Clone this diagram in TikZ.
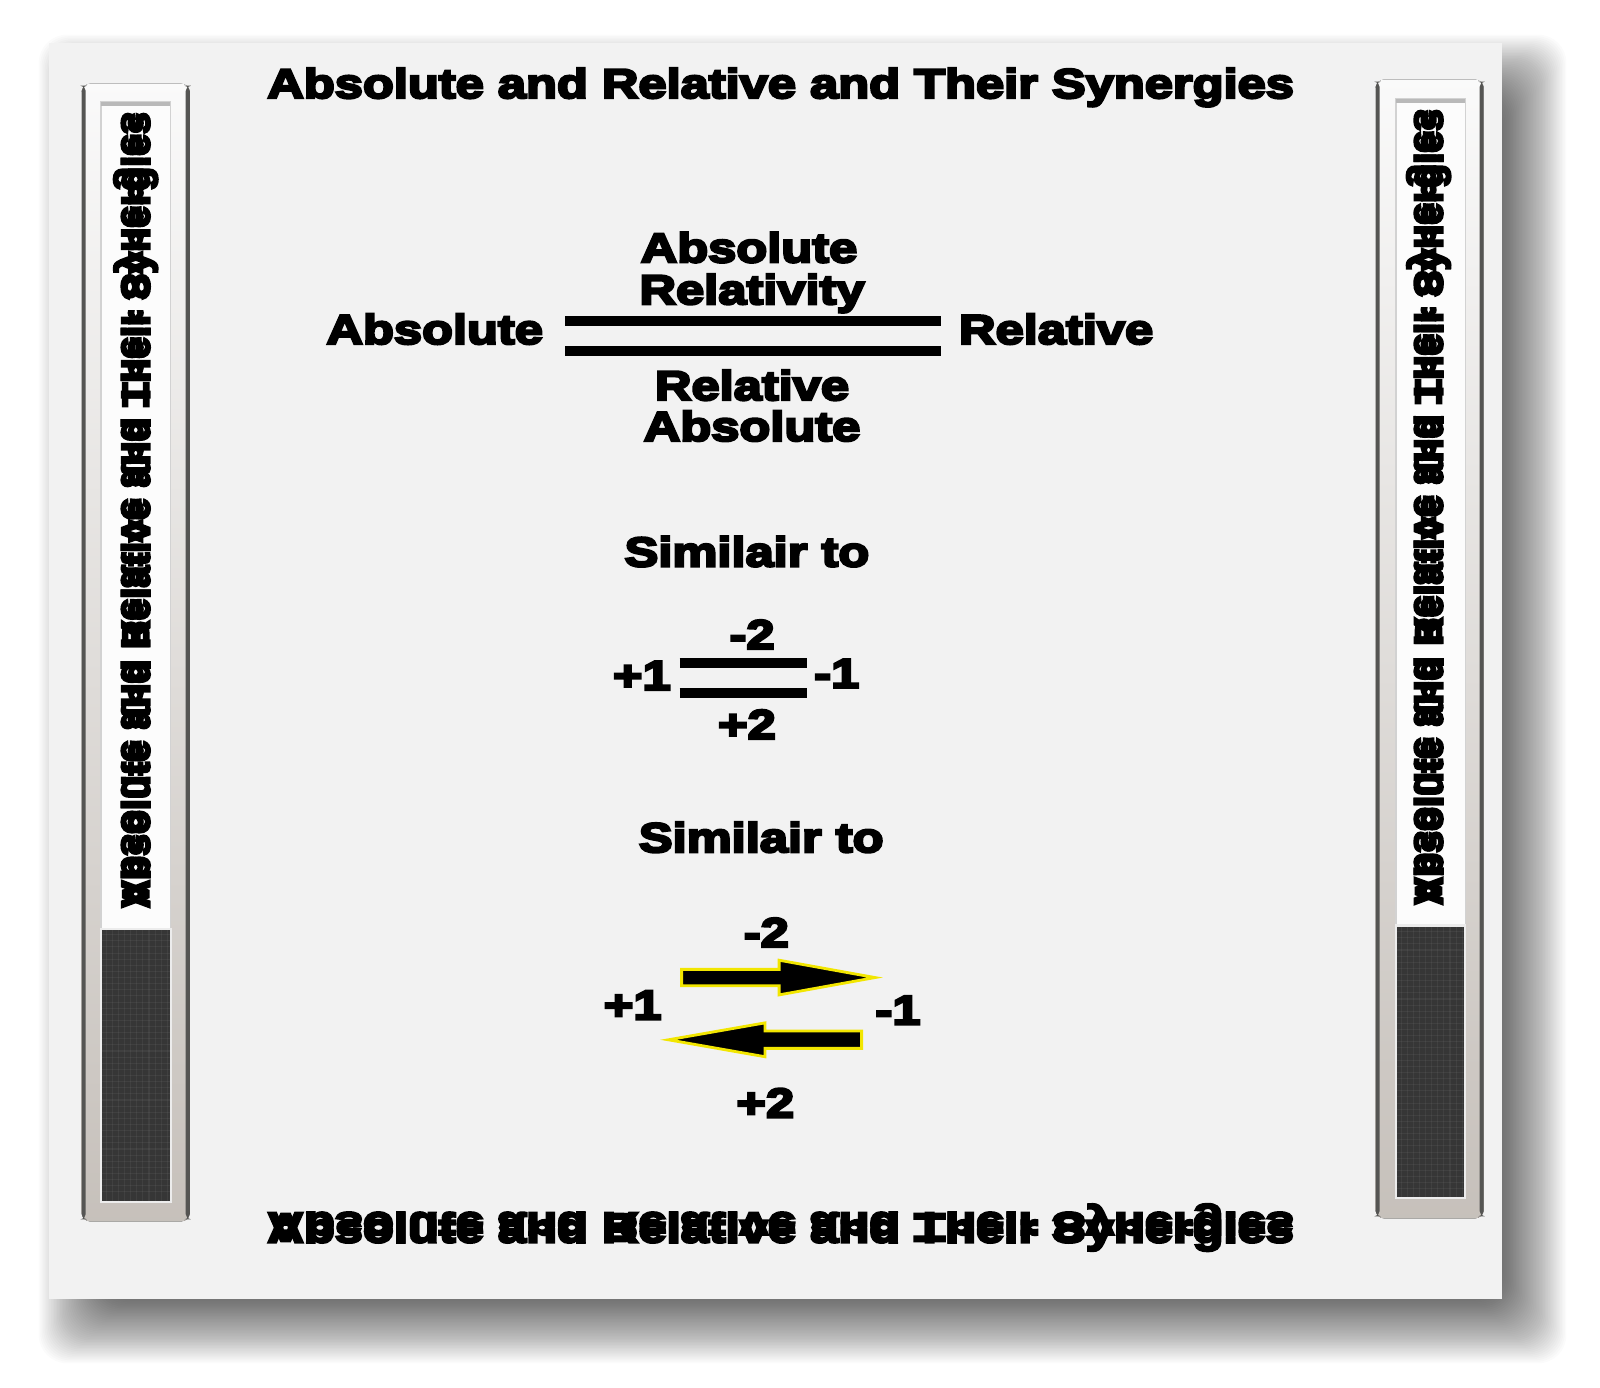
\documentclass[tikz,border=0pt]{standalone}
\usepackage{fontspec}
\newfontfamily\heavy[FakeStretch=1.225,FakeBold=6]{Liberation Sans Bold}
\newfontfamily\sideheavy[FakeStretch=1.02,FakeBold=6]{Liberation Sans Bold}
\definecolor{cardgray}{HTML}{F2F2F2}
\definecolor{edgegray}{HTML}{555553}
\definecolor{paneldark}{HTML}{363636}
\definecolor{arrowyel}{HTML}{F2E600}
\newcommand\mirtxt[6]{%
  \begin{scope}[shift={(#1,#2)},rotate=#3]
    \node[#4, transform shape] (#6a) at (0pt,-#5) {\mirrorcontent};
    \begin{scope}[yscale=-1]
      \node[#4, transform shape] (#6b) at (0pt,-#5) {\mirrorcontent};
    \end{scope}
  \end{scope}}
\newcommand\mirrorcontent{Absolute and Relative and Their Synergies}
\begin{document}
\begin{tikzpicture}[x=0.010204cm,y=-0.010204cm,
  lab/.style={font=\heavy\fontsize{11.76}{14}\selectfont, inner sep=0pt, anchor=base},
  sidelab/.style={font=\sideheavy\fontsize{10.95}{13}\selectfont, inner sep=0pt, anchor=base},
  barline/.style={line width=2.9pt, black},
  bigarrow/.style={fill=black, draw=arrowyel, line width=0.8pt, line join=miter},
  frame/.style={top color=white!96!gray, bottom color=white!85!brown!60!gray, rounded corners=2.5pt},
  strip/.style={fill=white!98!gray, draw=gray!35, line width=0.4pt},
  panel/.style={fill=paneldark, draw=white!85!gray, line width=0.6pt}]
\useasboundingbox (0,0) rectangle (1568,1359.3);
\fill[white] (0,0) rectangle (1568,1359.3);
% drop shadow of the card
\foreach \e in {0,1.5,...,66} {
  \fill[black, opacity=0.016, rounded corners=8pt] ({38+\e},{34+\e}) rectangle ({1535-\e},{1336-\e});
}
% card
\fill[cardgray] (48,42) rectangle (1472,1273);
% ---------- left side bar ----------
\fill[frame] (80,82) rectangle (186,1197);
\fill[edgegray, rounded corners=1.5pt] (80,84) rectangle (84,1195);
\fill[edgegray, rounded corners=1.5pt] (182,84) rectangle (186,1195);
\draw[strip] (99,100) rectangle (167,910);
\fill[gray!55] (99,100) rectangle (167,103.5);
\draw[panel] (99,910) rectangle (168,1178);
\foreach \yy in {916,922,...,1172} \draw[white, opacity=0.05, line width=0.3pt] (100,\yy) -- (167,\yy);
\foreach \xx in {104,110,...,164} \draw[white, opacity=0.05, line width=0.3pt] (\xx,911) -- (\xx,1177);
\mirtxt{133}{500}{90}{sidelab}{3.92pt}{lt}
% ---------- right side bar ----------
\fill[frame] (1348,78) rectangle (1454,1194);
\fill[edgegray, rounded corners=1.5pt] (1348,80) rectangle (1352,1192);
\fill[edgegray, rounded corners=1.5pt] (1450,80) rectangle (1454,1192);
\draw[strip] (1368,97) rectangle (1436,907);
\fill[gray!55] (1368,97) rectangle (1436,100.5);
\draw[panel] (1368,907) rectangle (1436,1174);
\foreach \yy in {913,919,...,1169} \draw[white, opacity=0.05, line width=0.3pt] (1369,\yy) -- (1435,\yy);
\foreach \xx in {1373,1379,...,1433} \draw[white, opacity=0.05, line width=0.3pt] (\xx,908) -- (\xx,1173);
\mirtxt{1400}{497}{90}{sidelab}{3.92pt}{rt}
% ---------- title and mirrored bottom line ----------
\node[lab] (title) at (765,96) {Absolute and Relative and Their Synergies};
\mirtxt{765}{1203}{0}{lab}{4.21pt}{bt}
% ---------- first relation ----------
\node[lab] (absrelA) at (734,257) {Absolute};
\node[lab] (absrelB) at (737,298) {Relativity};
\node[lab] (absL) at (426,337) {Absolute};
\node[lab] (relR) at (1035,337) {Relative};
\node[lab] (relabsA) at (737,392) {Relative};
\node[lab] (relabsB) at (737,432) {Absolute};
\coordinate (L1a) at (554,314.6); \coordinate (L1b) at (922,314.6);
\coordinate (L2a) at (554,343.8); \coordinate (L2b) at (922,343.8);
\draw[barline] (L1a) -- (L1b);
\draw[barline] (L2a) -- (L2b);
% ---------- second relation ----------
\node[lab] (sim1) at (732,555) {Similair to};
\node[lab] (mtwoA) at (737,636) {-2};
\node[lab] (poneA) at (629,676) {+1};
\node[lab] (moneA) at (820,674) {-1};
\node[lab] (ptwoA) at (732,724) {+2};
\coordinate (S1a) at (666,649.6); \coordinate (S1b) at (791,649.6);
\coordinate (S2a) at (666,679); \coordinate (S2b) at (791,679);
\draw[barline] (S1a) -- (S1b);
\draw[barline] (S2a) -- (S2b);
% ---------- third relation ----------
\node[lab] (sim2) at (746,835) {Similair to};
\node[lab] (mtwoB) at (751,928) {-2};
\node[lab] (poneB) at (620,999) {+1};
\node[lab] (moneB) at (880,1004) {-1};
\node[lab] (ptwoB) at (750,1095) {+2};
\coordinate (RA) at (668,958); \coordinate (RB) at (857.5,958);
\coordinate (LA) at (844.4,1019); \coordinate (LB) at (655,1019);
\draw[bigarrow] (RA) ++(0,-8) -- (763.5,950) -- (763.5,941) -- (RB) -- (763.5,975) -- (763.5,966) -- (668,966) -- cycle;
\draw[bigarrow] (LB) -- (749.7,1002.4) -- (749.7,1010.4) -- (844.4,1010.4) -- (844.4,1027.4) -- (749.7,1027.4) -- (749.7,1035.6) -- cycle;
\end{tikzpicture}
\end{document}
